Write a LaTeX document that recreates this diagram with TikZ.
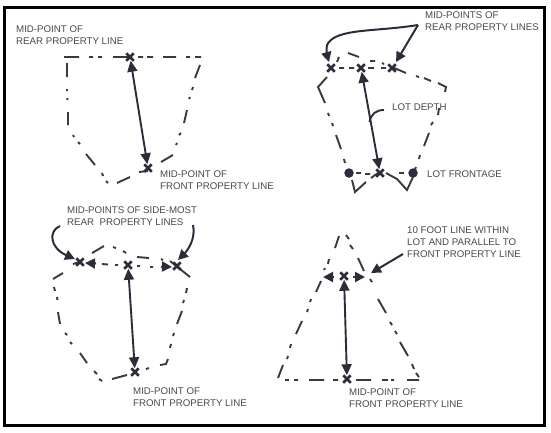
\documentclass[tikz,border=0pt]{standalone}
\usepackage{fontspec}
\setmainfont{Liberation Sans}
\usetikzlibrary{arrows.meta,shapes.misc}
\definecolor{ink}{HTML}{2B2E3A}
\definecolor{bnd}{HTML}{3A3A3E}
\definecolor{txt}{HTML}{4A4A4A}
\tikzset{
  bound/.style={draw=bnd,line width=1.9pt},
  xmark/.style={cross out,draw=ink,line width=2.6pt,minimum size=5.5pt,inner sep=0pt,outer sep=1pt},
  spot/.style={circle,fill=ink,minimum size=9.5pt,inner sep=0pt},
  dbl/.style={draw=ink,line width=1.9pt,{Triangle[length=11pt,width=10pt]}-{Triangle[length=11pt,width=10pt]}},
  one/.style={draw=ink,line width=2pt,-{Triangle[length=10pt,width=10pt]}},
  lead/.style={draw=ink,line width=1.9pt},
  lbl/.style={anchor=west,align=left,inner sep=0pt,text=txt,font=\fontsize{9.7}{11.8}\selectfont},
}
\begin{document}
\begin{tikzpicture}[x=1pt,y=-1pt]
\useasboundingbox (0,0) rectangle (551,432);
\fill[white] (0,0) rectangle (551,432);
\draw[black,line width=3.5pt] (4.5,7.5) rectangle (544.5,425.5);

% Panel 1
\draw[bound] (64,57)--(79,57) (89,57)--(93,57) (98,57)--(102,57) (113,57)--(128,57) (138,57)--(143,57) (147,57)--(153,57) (163,57)--(176,57) (186,57)--(190,57) (195,57)--(201,57)
 (67,63)--(67,77) (67,89)--(67,91) (67.3,98)--(67.3,100) (68,112)--(68,125)
 (73,135)--(74,137) (78,142)--(80,144) (86,154)--(95,165) (102,173)--(103,176) (106,181)--(108,183)
 (117,183)--(130,177) (139,172)--(148,171)
 (161,162)--(173,155) (176,145)--(177,143) (179,135)--(181,133) (184,123)--(187,110) (189,99)--(190,97) (192,90)--(193,87) (195,78)--(200,65);
\node[xmark] (a1) at (130,57) {};
\node[xmark] (a2) at (148,168) {};
\draw[dbl] (a1)--(a2);
\node[lbl] (t1) at (16,35.5) {MID-POINT OF\\REAR PROPERTY LINE};
\node[lbl] (t2) at (160,180) {MID-POINT OF\\FRONT PROPERTY LINE};

% Panel 2
\draw[bound] (339,68)--(344,68) (349,68)--(354,68) (368,68)--(374,68) (381,68)--(386,68)
 (337,62)--(339,57) (348,53)--(359,57) (370,61)--(375,61) (382,63)--(384,64) (392,67)--(406,73) (416,76)--(419,77) (424,78)--(431,81) (438,83)--(446,87)--(445,92)
 (439,108)--(438,115) (433,122)--(431,125) (429,133)--(424,146) (420,155)--(419,159) (416,167)--(414,172)
 (327,77)--(318,87)--(325,103) (328,113)--(329,116) (332,123)--(333,126) (336,135)--(341,149) (344,159)--(345,163)
 (356,173)--(361,173) (365,174)--(370,174) (386,173)--(397,179)--(407,190)--(413,177) (399,173)--(404,173)
 (352,180)--(355,192)--(366,182) (371,178)--(378,173);
\node[xmark] (b1) at (331,68) {};
\node[xmark] (b2) at (361,68) {};
\node[xmark] (b3) at (392,68) {};
\node[xmark] (b4) at (380,173) {};
\node[spot] (b5) at (349,173) {};
\node[spot] (b6) at (413,173) {};
\draw[dbl] (b2)--(b4);
\node[lbl] (t3) at (425,21) {MID-POINTS OF\\REAR PROPERTY LINES};
\node[lbl] (t4) at (392,107) {LOT DEPTH};
\node[lbl] (t5) at (427,174) {LOT FRONTAGE};
\coordinate (c1) at (418,25);
\coordinate (c2) at (384,110);
\coordinate (c3) at (369.5,122);
\draw[one] (c1) .. controls (375,32) and (335,28) .. (327,45) .. controls (326,50) and (327,55) .. (329,62);
\draw[one] (c1) -- (396,62);
\draw[lead] (c2) .. controls (376,110) and (371,114) .. (c3);

% Panel 3
\draw[bound] (53,279)--(63,273) (73,264)--(79,262) (92,253)--(104,246) (113,247)--(116,248) (123,251)--(126,253) (137,257)--(149,258) (161,259)--(163,260) (170,261)--(190,277)
 (54,287)--(55,291) (57,297)--(57.5,300) (58,312)--(60,324) (65,333)--(67,335) (70,342)--(72,344) (80,353)--(87,363) (94,371)--(97,374) (99,379)--(102,381)
 (112,379)--(127,375) (146,369)--(149,368) (160,365)--(166,364)--(168,359) (170,348)--(171,344) (173,336)--(174,333) (177,324)--(182,311) (183,303)--(184,300) (186,293)--(187,288)
 (102,264)--(108,264.5) (115,265)--(118,265) (137,266)--(140,266) (150,267)--(153,267);
\node[xmark] (d1) at (80,262) {};
\node[xmark] (d2) at (128,265) {};
\node[xmark] (d3) at (177,266) {};
\node[xmark] (d4) at (135,372) {};
\draw[dbl] (d2)--(d4);
\coordinate (e1) at (96,263.5);
\coordinate (e2) at (161,266.5);
\draw[one] (e1) -- (85,263);
\draw[one] (e2) -- (172,267);
\coordinate (e3) at (60,226);
\coordinate (e4) at (193,225);
\draw[one] (e3) .. controls (48,231) and (50,248) .. (75,259);
\draw[one] (e4) .. controls (196,238) and (188,250) .. (178,260);
\node[lbl] (t6) at (67,216.5) {MID-POINTS OF SIDE-MOST\\REAR\ \ PROPERTY LINES};
\node[lbl] (t7) at (133,397) {MID-POINT OF\\FRONT PROPERTY LINE};

% Panel 4
\draw[bound] (339,236)--(335,248) (329,259)--(328,264) (325,268)--(324,270) (321,281)--(316,292) (311,299)--(310,302) (308,309)--(307,312) (302,321)--(296,334) (291,344)--(290,348) (288,356)--(287,359) (283,365)--(278,378)
 (346,235)--(349,239) (350,245)--(353,249) (358,258)--(364,271) (370,279)--(372,282) (378,299)--(386,313) (390,322)--(392,325) (395,331)--(397,334) (400,342)--(408,356) (412,364)--(414,369) (416,373)--(419,377)
 (285,380)--(289,380) (294,380)--(298,380) (309,380)--(324,380) (333,380)--(338,380) (356,380)--(371,380) (382,380)--(388,380) (391,380)--(394,380) (407,380)--(419,380);
\node[xmark] (f1) at (344,276) {};
\node[xmark] (f2) at (347,379) {};
\draw[dbl] (f1)--(f2);
\coordinate (g1) at (333,277);
\coordinate (g2) at (353,277);
\coordinate (g3) at (403,254);
\draw[one] (g1) -- (323,277);
\draw[one] (g2) -- (365,277);
\draw[one] (g3) -- (371,273);
\node[lbl] (t8) at (407,242) {10 FOOT LINE WITHIN\\LOT AND PARALLEL TO\\FRONT PROPERTY LINE};
\node[lbl] (t9) at (349,398) {MID-POINT OF\\FRONT PROPERTY LINE};
\end{tikzpicture}
\end{document}
